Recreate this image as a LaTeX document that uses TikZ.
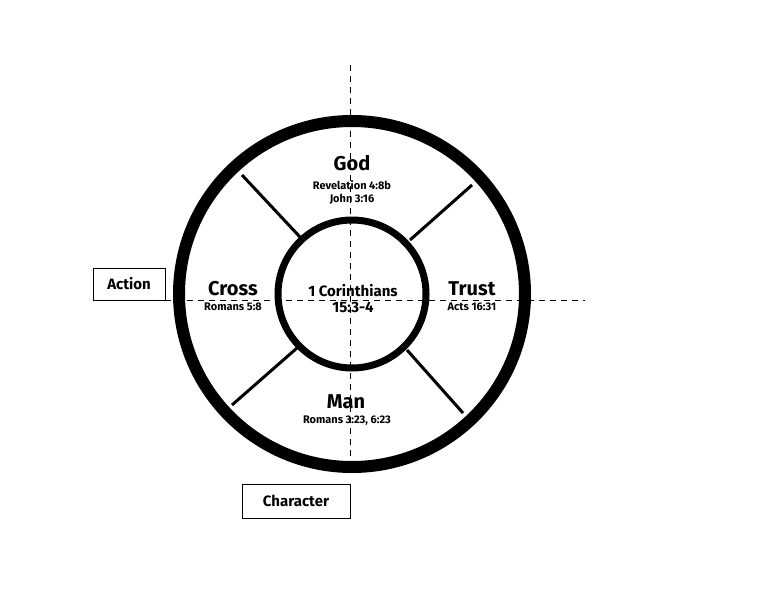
\documentclass[tikz,border=0pt]{standalone}
\usepackage{fontspec}
\setmainfont{Fira Sans}
\begin{document}
\begin{tikzpicture}[x=1pt,y=-1pt,
  big/.style={font=\bfseries\fontsize{20}{22}\selectfont, inner sep=0},
  small/.style={font=\bfseries\fontsize{11}{13}\selectfont, inner sep=0, align=center},
  mid/.style={font=\bfseries\fontsize{15}{16}\selectfont, inner sep=0, align=center},
  lbl/.style={draw, line width=0.8pt, font=\bfseries\fontsize{15}{16}\selectfont, minimum height=32pt, inner xsep=8pt},
  axis/.style={dashed, line width=0.8pt, dash pattern=on 6pt off 5pt}]
\useasboundingbox (0,0) rectangle (768,594);
\coordinate (c) at (352,294);
\draw[line width=12pt] (c) circle (173);
\draw[line width=7pt] (c) circle (74);
\draw[line width=3pt] (242,175) -- (300,237);
\draw[line width=3pt] (472,185) -- (410,240);
\draw[line width=3pt] (232,405) -- (297,348);
\draw[line width=3pt] (463,413) -- (407,350);
\coordinate (vt) at (350,65); \coordinate (vb) at (350,472);
\coordinate (hl) at (165,300); \coordinate (hr) at (585,300);
\draw[axis] (vt) -- (vb);
\draw[axis] (hl) -- (hr);
\node[big] (god) at (352,163) {God};
\node[small] (godr) at (352,192) {Revelation 4:8b\\John 3:16};
\node[big] (cross) at (233,289) {Cross};
\node[small] (crossr) at (233,307) {Romans 5:8};
\node[big] (trust) at (472,289) {Trust};
\node[small] (trustr) at (472,307) {Acts 16:31};
\node[mid] (cor) at (353,299) {1 Corinthians\\15:3-4};
\node[big] (man) at (346,402) {Man};
\node[small] (manr) at (347,421) {Romans 3:23, 6:23};
\node[lbl, minimum width=72pt] (action) at (129,284) {Action};
\node[lbl, minimum width=108pt, minimum height=34pt] (character) at (296,501) {Character};
\end{tikzpicture}
\end{document}
